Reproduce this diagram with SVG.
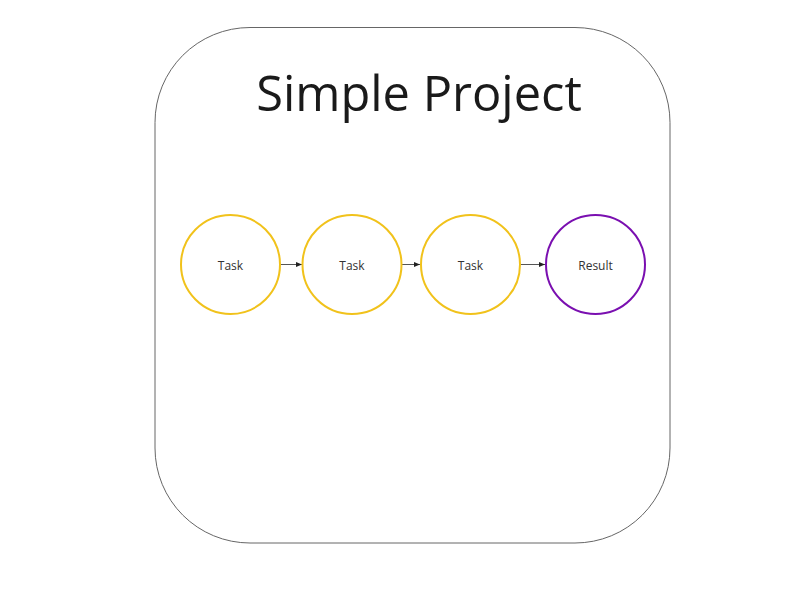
<svg xmlns="http://www.w3.org/2000/svg" width="800" height="600" viewBox="0 0 800 600">
<style>
.task{fill:#fff;stroke:#f1c21b;stroke-width:2}
.result{fill:#fff;stroke:#7a0fb0;stroke-width:2}
.lbl{font-family:"Open Sans",sans-serif;font-size:12px;fill:#333;text-anchor:middle}
.conn{stroke:#555;stroke-width:1;fill:none}
</style>
<defs>
<marker id="arr" markerWidth="6" markerHeight="6" refX="6" refY="3" orient="auto" markerUnits="userSpaceOnUse">
<path d="M0,0.5 L6,3 L0,5.5 Z" fill="#222"/>
</marker>
</defs>
<rect width="800" height="600" fill="#fff"/>
<g id="frame">
<rect x="155" y="27.5" width="515" height="515.5" rx="95" ry="95" fill="#fff" stroke="#666" stroke-width="1"/>
<text x="419" y="110.5" font-family="Open Sans, sans-serif" font-size="48.8" fill="#1a1a1a" text-anchor="middle">Simple Project</text>
</g>
<g id="connectors">
<line class="conn" x1="281" y1="264.5" x2="302" y2="264.5" marker-end="url(#arr)"/>
<line class="conn" x1="402" y1="264.5" x2="420" y2="264.5" marker-end="url(#arr)"/>
<line class="conn" x1="521" y1="264.5" x2="545" y2="264.5" marker-end="url(#arr)"/>
</g>
<g id="task1"><circle class="task" cx="230.5" cy="264.5" r="49.5"/><text class="lbl" x="230.5" y="269.5">Task</text></g>
<g id="task2"><circle class="task" cx="352" cy="264.5" r="49.5"/><text class="lbl" x="352" y="269.5">Task</text></g>
<g id="task3"><circle class="task" cx="470.5" cy="264.5" r="49.5"/><text class="lbl" x="470.5" y="269.5">Task</text></g>
<g id="result"><circle class="result" cx="595.5" cy="264.5" r="49.5"/><text class="lbl" x="595.5" y="269.5">Result</text></g>
</svg>
